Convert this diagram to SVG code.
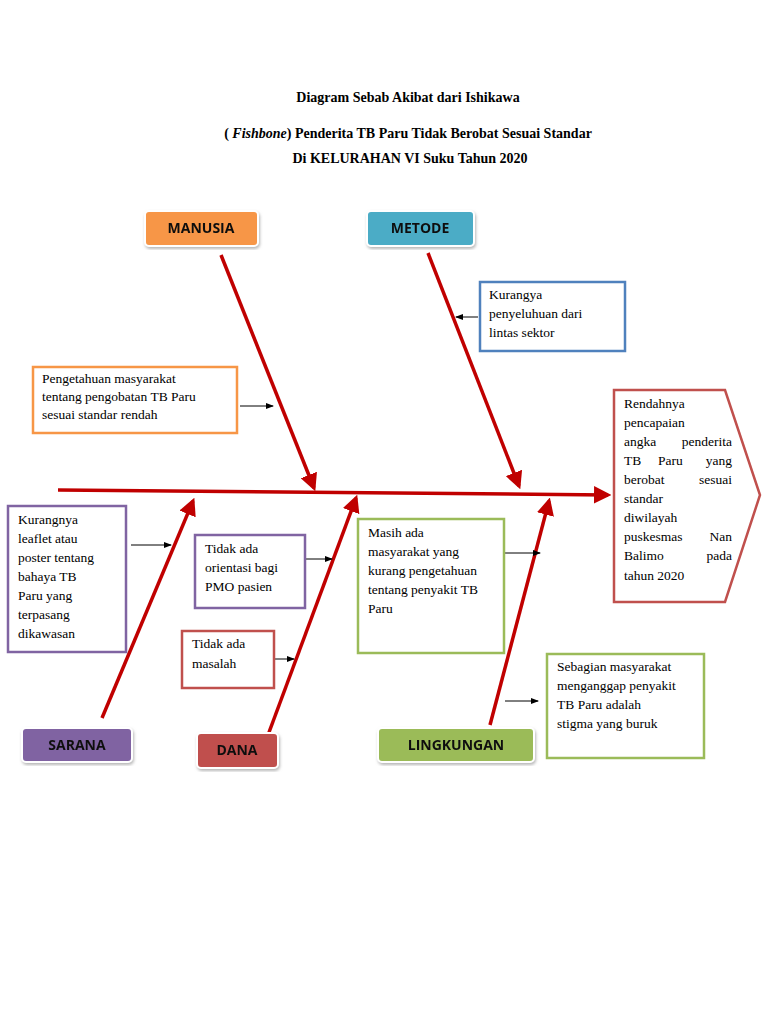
<svg xmlns="http://www.w3.org/2000/svg" width="768" height="1024" viewBox="0 0 768 1024">
<style>
.t{font-family:"Liberation Serif",serif;font-size:13.5px;fill:#000}
.r{text-anchor:end}
.h{font-family:"Liberation Serif",serif;font-size:14px;font-weight:bold;fill:#000}
.c{font-family:"Open Sans","DejaVu Sans",sans-serif;font-size:14px;font-weight:bold;fill:#111;text-anchor:middle}
.bone{stroke:#C00000;stroke-width:3.5;fill:none;marker-end:url(#ra)}
.thin{stroke:#000;stroke-width:1;fill:none;marker-end:url(#ka)}
.box{fill:#fff;stroke-width:2.5}
</style>
<defs>
<marker id="ra" markerWidth="5" markerHeight="5" refX="4" refY="2.5" orient="auto"><path d="M0,0L5,2.5L0,5z" fill="#C00000"/></marker>
<marker id="ka" markerWidth="8" markerHeight="6" refX="7" refY="3" orient="auto" markerUnits="userSpaceOnUse"><path d="M0,0L8,3L0,6z" fill="#000"/></marker>
<filter id="sh"><feDropShadow dx="1" dy="2" stdDeviation="1.5" flood-color="#888" flood-opacity="0.6"/></filter>
</defs>
<rect width="768" height="1024" fill="#fff"/>
<text class="h" x="408" y="102" text-anchor="middle">Diagram Sebab Akibat dari Ishikawa</text>
<text class="h" x="408" y="138" text-anchor="middle">( <tspan font-style="italic">Fishbone</tspan>)  Penderita TB Paru Tidak Berobat Sesuai Standar</text>
<text class="h" x="410" y="163" text-anchor="middle">Di KELURAHAN VI Suku Tahun 2020</text>

<g id="connectors">
<line class="bone" x1="58" y1="490" x2="608" y2="495"/>
<line class="bone" x1="221" y1="255" x2="314" y2="488"/>
<line class="bone" x1="428" y1="253" x2="519" y2="486"/>
<line class="bone" x1="102" y1="718" x2="193" y2="501"/>
<line class="bone" x1="268" y1="735" x2="356" y2="498"/>
<line class="bone" x1="490" y1="725" x2="549" y2="501"/>
<line class="thin" x1="478" y1="317" x2="456" y2="317"/>
<line class="thin" x1="240" y1="406" x2="273" y2="406"/>
<line class="thin" x1="131" y1="545" x2="171" y2="545"/>
<line class="thin" x1="305" y1="559" x2="332" y2="559"/>
<line class="thin" x1="273" y1="659" x2="294" y2="659"/>
<line class="thin" x1="503" y1="553" x2="540" y2="553"/>
<line class="thin" x1="505" y1="701" x2="538" y2="701"/>
</g>

<g id="manusia" filter="url(#sh)"><rect x="145" y="211" width="113" height="35" rx="4" fill="#F79646" stroke="#fff" stroke-width="2"/><text class="c" x="201" y="233">MANUSIA</text></g>
<g id="metode" filter="url(#sh)"><rect x="367" y="211" width="107" height="35" rx="4" fill="#4BACC6" stroke="#fff" stroke-width="2"/><text class="c" x="420" y="233">METODE</text></g>
<g id="sarana" filter="url(#sh)"><rect x="22" y="728" width="110" height="34" rx="4" fill="#8064A2" stroke="#fff" stroke-width="2"/><text class="c" x="77" y="750">SARANA</text></g>
<g id="dana" filter="url(#sh)"><rect x="197" y="733" width="81" height="35" rx="4" fill="#C0504D" stroke="#fff" stroke-width="2"/><text class="c" x="237" y="755">DANA</text></g>
<g id="lingkungan" filter="url(#sh)"><rect x="378" y="728" width="156" height="34" rx="4" fill="#9BBB59" stroke="#fff" stroke-width="2"/><text class="c" x="456" y="750">LINGKUNGAN</text></g>

<g id="kurangnya-penyuluhan"><rect class="box" x="480" y="282" width="145" height="69" stroke="#4F81BD"/>
<text class="t" x="489" y="299">Kurangya</text><text class="t" x="489" y="318">penyeluhuan dari</text><text class="t" x="489" y="337">lintas sektor</text></g>

<g id="pengetahuan"><rect class="box" x="33" y="367" width="204" height="66" stroke="#F79646"/>
<text class="t" x="42" y="383">Pengetahuan masyarakat</text><text class="t" x="42" y="401">tentang pengobatan TB Paru</text><text class="t" x="42" y="419">sesuai standar rendah</text></g>

<g id="effect"><path d="M614,390H725L760,495L725,602H614Z" fill="#fff" stroke="#C0504D" stroke-width="2.5"/>
<text class="t" x="624" y="408">Rendahnya</text>
<text class="t" x="624" y="427">pencapaian</text>
<text class="t" x="624" y="446">angka</text><text class="t r" x="732" y="446">penderita</text>
<text class="t" x="624" y="465">TB</text><text class="t" x="658" y="465">Paru</text><text class="t r" x="732" y="465">yang</text>
<text class="t" x="624" y="484">berobat</text><text class="t r" x="732" y="484">sesuai</text>
<text class="t" x="624" y="503">standar</text>
<text class="t" x="624" y="522">diwilayah</text>
<text class="t" x="624" y="541">puskesmas</text><text class="t r" x="732" y="541">Nan</text>
<text class="t" x="624" y="560">Balimo</text><text class="t r" x="732" y="560">pada</text>
<text class="t" x="624" y="580">tahun 2020</text></g>

<g id="leaflet"><rect class="box" x="8" y="506" width="118" height="146" stroke="#8064A2"/>
<text class="t" x="18" y="524">Kurangnya</text><text class="t" x="18" y="543">leaflet atau</text><text class="t" x="18" y="562">poster tentang</text><text class="t" x="18" y="581">bahaya TB</text><text class="t" x="18" y="600">Paru yang</text><text class="t" x="18" y="619">terpasang</text><text class="t" x="18" y="638">dikawasan</text></g>

<g id="orientasi"><rect class="box" x="195" y="535" width="110" height="73" stroke="#8064A2"/>
<text class="t" x="205" y="553">Tidak ada</text><text class="t" x="205" y="572">orientasi bagi</text><text class="t" x="205" y="591">PMO pasien</text></g>

<g id="masalah"><rect class="box" x="182" y="631" width="92" height="57" stroke="#C0504D"/>
<text class="t" x="192" y="648">Tidak ada</text><text class="t" x="192" y="668">masalah</text></g>

<g id="masih-ada"><rect class="box" x="358" y="519" width="146" height="134" stroke="#9BBB59"/>
<text class="t" x="368" y="537">Masih ada</text><text class="t" x="368" y="556">masyarakat yang</text><text class="t" x="368" y="575">kurang pengetahuan</text><text class="t" x="368" y="594">tentang penyakit TB</text><text class="t" x="368" y="613">Paru</text></g>

<g id="stigma"><rect class="box" x="547" y="654" width="157" height="104" stroke="#9BBB59"/>
<text class="t" x="557" y="671">Sebagian masyarakat</text><text class="t" x="557" y="690">menganggap penyakit</text><text class="t" x="557" y="709">TB Paru adalah</text><text class="t" x="557" y="728">stigma yang buruk</text></g>
</svg>
